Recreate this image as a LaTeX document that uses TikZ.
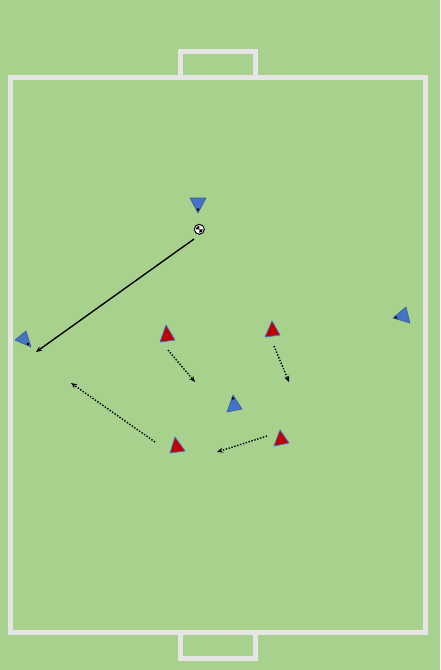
\documentclass[tikz,border=0pt]{standalone}
\usepackage{xcolor}
\usetikzlibrary{arrows.meta}
\definecolor{pitch}{HTML}{A9D18E}
\definecolor{chalk}{HTML}{E6E6E6}
\definecolor{teamblue}{HTML}{4472C4}
\definecolor{teamred}{HTML}{C00000}
\tikzstyle{line} = [draw=chalk, line width=5pt]
\tikzstyle{blueplayer} = [fill=teamblue, draw=teamblue!80!black, line width=0.6pt, line join=round]
\tikzstyle{redplayer} = [fill=teamred, draw=teamblue, line width=0.8pt, line join=round]
\tikzstyle{pass} = [line width=1.4pt, -{Stealth[length=6pt,width=5pt]}]
\tikzstyle{run} = [line width=1.4pt, dash pattern=on 1.4pt off 1.6pt, -{Stealth[length=6pt,width=5pt]}]

\begin{document}
\begin{tikzpicture}[x=1pt,y=-1pt]
\useasboundingbox[fill=pitch] (0,0) rectangle (440,670);
% pitch
\path[line] (10.5,77.5) rectangle (425.5,632.5);
\path[line] (180.5,77.5) -- (180.5,51.5) -- (255.5,51.5) -- (255.5,77.5);
\path[line] (180.5,632.5) -- (180.5,658) -- (255.5,658) -- (255.5,632.5);
% blue players
\filldraw[blueplayer] (190,198) -- (206,198) -- (198,213) -- cycle;
\fill (198,209.5) circle (1.4);
\filldraw[blueplayer] (15,340) -- (26,331) -- (31,347) -- cycle;
\fill (28,344) circle (1.4);
\filldraw[blueplayer] (393,318) -- (406,307) -- (410,323) -- cycle;
\fill (396,317.5) circle (1.4);
\filldraw[blueplayer] (233,395) -- (227,412) -- (242,409) -- cycle;
\fill (233,398.5) circle (1.4);
% red players
\filldraw[redplayer] (166,325) -- (160,342) -- (175,340) -- cycle;
\filldraw[redplayer] (272,321) -- (265,337) -- (280,335) -- cycle;
\filldraw[redplayer] (175,437) -- (170,453) -- (185,451) -- cycle;
\filldraw[redplayer] (280,430) -- (274,446) -- (289,443) -- cycle;
% ball
\node[circle, fill=white, draw=black, line width=1pt, minimum size=10pt, inner sep=0pt] (ball) at (199.3,229.3) {};
\fill (ball.center) -- ++(-3.5,0) arc (180:270:3.5) -- cycle;
\fill (ball.center) -- ++(3.5,0) arc (0:90:3.5) -- cycle;
% arrows
\coordinate (s1) at (194,239);
\coordinate (e1) at (36,352);
\coordinate (s2) at (168,350);
\coordinate (e2) at (195,382);
\coordinate (s3) at (274,346);
\coordinate (e3) at (289,382);
\coordinate (s4) at (155,442);
\coordinate (e4) at (71,383);
\coordinate (s5) at (267,436);
\coordinate (e5) at (217,452);
\draw[pass] (s1) -- (e1);
\draw[run] (s2) -- (e2);
\draw[run] (s3) -- (e3);
\draw[run] (s4) -- (e4);
\draw[run] (s5) -- (e5);
\end{tikzpicture}
\end{document}
